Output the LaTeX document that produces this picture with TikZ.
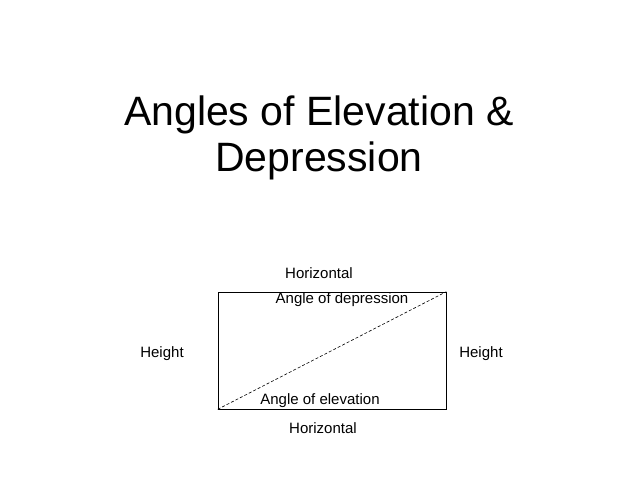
\documentclass[tikz,border=0pt]{standalone}
\usepackage{fontspec}
\setmainfont{Liberation Sans}
\begin{document}
\begin{tikzpicture}[x=1pt,y=-1pt,lbl/.style={font=\fontsize{15}{18}\selectfont,inner sep=0pt}]
\useasboundingbox (0,0) rectangle (638,478);
\node[font=\fontsize{41}{46}\selectfont,align=center,inner sep=0pt] (title) at (319,138) {Angles of Elevation \&\\Depression};
\node[draw,minimum width=228pt,minimum height=117pt,inner sep=0pt,line width=0.6pt] (box) at (332,350.5) {};
\draw[densely dashed,line width=0.6pt] (box.south west) -- (box.north east);
\node[lbl] (h1) at (319,273) {Horizontal};
\node[lbl] (ad) at (342,300) {Angle of depression};
\node[lbl] (hl) at (162,354) {Height};
\node[lbl] (hr) at (481,354) {Height};
\node[lbl] (ae) at (320,401) {Angle of elevation};
\node[lbl] (h2) at (323,428) {Horizontal};
\end{tikzpicture}
\end{document}
